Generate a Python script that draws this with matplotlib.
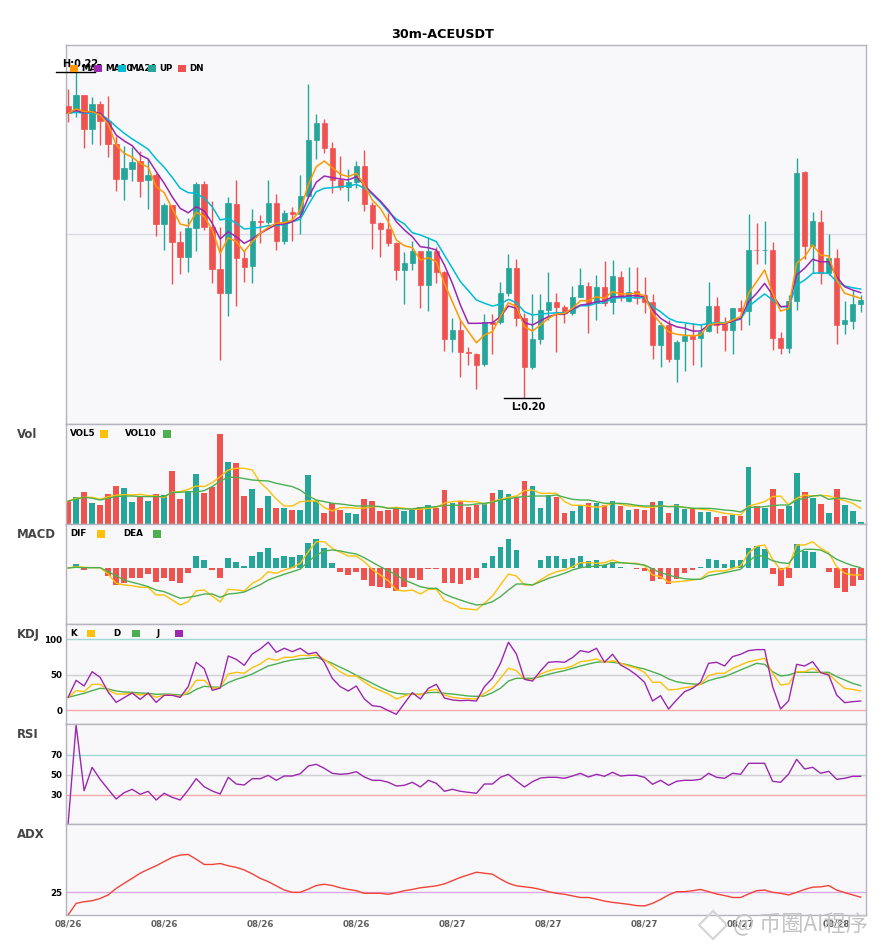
import numpy as np
import matplotlib
matplotlib.use("Agg")
import matplotlib.pyplot as plt
from matplotlib.patches import Rectangle, Polygon

# ---- data (30m candles, 100 bars) ----
open_ = [
    0.21787, 0.21762, 0.21854, 0.21646, 0.21799, 0.21695, 0.21554, 0.21342, 0.21401, 0.21450,
    0.21334, 0.21364, 0.21064, 0.21181, 0.20954, 0.20862, 0.21040, 0.21309, 0.21046, 0.20789,
    0.20642, 0.21187, 0.20856, 0.20807, 0.21083, 0.21078, 0.21193, 0.20962, 0.21138, 0.21127,
    0.21238, 0.21581, 0.21683, 0.21530, 0.21336, 0.21289, 0.21323, 0.21419, 0.21181, 0.21072,
    0.21036, 0.20950, 0.20784, 0.20827, 0.20899, 0.20693, 0.20899, 0.20772, 0.20362, 0.20415,
    0.20280, 0.20268, 0.20209, 0.20464, 0.20462, 0.20642, 0.20795, 0.20490, 0.20190, 0.20360,
    0.20538, 0.20587, 0.20556, 0.20521, 0.20619, 0.20685, 0.20579, 0.20679, 0.20588, 0.20740,
    0.20595, 0.20654, 0.20630, 0.20587, 0.20325, 0.20448, 0.20239, 0.20350, 0.20380, 0.20368,
    0.20411, 0.20562, 0.20454, 0.20417, 0.20550, 0.20533, 0.20908, 0.20902, 0.20905, 0.20368,
    0.20307, 0.20595, 0.21383, 0.20931, 0.21077, 0.20766, 0.20858, 0.20454, 0.20472, 0.20574,
]
high_ = [
    0.21889, 0.21997, 0.21856, 0.21844, 0.21819, 0.21848, 0.21605, 0.21542, 0.21534, 0.21513,
    0.21462, 0.21378, 0.21195, 0.21183, 0.21020, 0.21101, 0.21322, 0.21328, 0.21205, 0.21046,
    0.21231, 0.21334, 0.20905, 0.21156, 0.21119, 0.21334, 0.21248, 0.21150, 0.21168, 0.21364,
    0.21922, 0.21738, 0.21707, 0.21566, 0.21481, 0.21401, 0.21450, 0.21517, 0.21201, 0.21078,
    0.21134, 0.20952, 0.20893, 0.20960, 0.20901, 0.20985, 0.20923, 0.20774, 0.20489, 0.20476,
    0.20313, 0.20274, 0.20513, 0.20513, 0.20709, 0.20881, 0.20850, 0.20519, 0.20636, 0.20636,
    0.20770, 0.20642, 0.20570, 0.20686, 0.20797, 0.20711, 0.20752, 0.20838, 0.20844, 0.20776,
    0.20803, 0.20801, 0.20740, 0.20636, 0.20464, 0.20476, 0.20354, 0.20460, 0.20460, 0.20454,
    0.20709, 0.20617, 0.20495, 0.20552, 0.20599, 0.21126, 0.21070, 0.21083, 0.20954, 0.20405,
    0.20630, 0.21469, 0.21389, 0.21138, 0.21150, 0.21003, 0.20911, 0.20593, 0.20660, 0.20630,
]
low_ = [
    0.21691, 0.21718, 0.21532, 0.21554, 0.21548, 0.21476, 0.21268, 0.21211, 0.21329, 0.21231,
    0.21158, 0.20993, 0.20905, 0.20697, 0.20758, 0.20772, 0.20899, 0.21028, 0.20705, 0.20231,
    0.20501, 0.20562, 0.20709, 0.20703, 0.20948, 0.21066, 0.20907, 0.20944, 0.20962, 0.21005,
    0.21236, 0.21464, 0.21501, 0.21256, 0.21273, 0.21205, 0.21287, 0.21146, 0.20913, 0.20864,
    0.20931, 0.20723, 0.20576, 0.20784, 0.20552, 0.20533, 0.20705, 0.20288, 0.20282, 0.20129,
    0.20201, 0.20054, 0.20197, 0.20268, 0.20452, 0.20623, 0.20442, 0.19998, 0.20176, 0.20329,
    0.20478, 0.20282, 0.20460, 0.20507, 0.20617, 0.20399, 0.20478, 0.20564, 0.20511, 0.20595,
    0.20587, 0.20574, 0.20519, 0.20239, 0.20190, 0.20221, 0.20099, 0.20166, 0.20203, 0.20190,
    0.20405, 0.20399, 0.20288, 0.20270, 0.20417, 0.20448, 0.20821, 0.20821, 0.20295, 0.20270,
    0.20276, 0.20540, 0.20852, 0.20766, 0.20699, 0.20752, 0.20331, 0.20392, 0.20423, 0.20525,
]
close_ = [
    0.21742, 0.21854, 0.21646, 0.21799, 0.21695, 0.21554, 0.21342, 0.21407, 0.21444, 0.21329,
    0.21364, 0.21064, 0.21181, 0.20954, 0.20862, 0.21040, 0.21309, 0.21046, 0.20789, 0.20642,
    0.21193, 0.20856, 0.20801, 0.21083, 0.21077, 0.21193, 0.20962, 0.21132, 0.21126, 0.21236,
    0.21579, 0.21683, 0.21532, 0.21336, 0.21293, 0.21322, 0.21419, 0.21189, 0.21072, 0.21036,
    0.20950, 0.20784, 0.20825, 0.20899, 0.20693, 0.20899, 0.20772, 0.20362, 0.20415, 0.20282,
    0.20272, 0.20201, 0.20462, 0.20452, 0.20642, 0.20795, 0.20490, 0.20190, 0.20360, 0.20538,
    0.20587, 0.20558, 0.20521, 0.20617, 0.20691, 0.20576, 0.20679, 0.20579, 0.20746, 0.20619,
    0.20648, 0.20611, 0.20588, 0.20325, 0.20446, 0.20239, 0.20342, 0.20380, 0.20362, 0.20405,
    0.20562, 0.20448, 0.20417, 0.20550, 0.20533, 0.20905, 0.20902, 0.20908, 0.20368, 0.20307,
    0.20593, 0.21377, 0.20931, 0.21083, 0.20766, 0.20858, 0.20448, 0.20476, 0.20574, 0.20599,
]
ma5 = [
    0.21742, 0.21769, 0.21752, 0.21752, 0.21732, 0.21677, 0.21548, 0.21497, 0.21473, 0.21436,
    0.21412, 0.21293, 0.21256, 0.21160, 0.21064, 0.21052, 0.21136, 0.21109, 0.21028, 0.20885,
    0.20980, 0.20956, 0.20895, 0.20956, 0.21007, 0.21044, 0.21069, 0.21072, 0.21089, 0.21150,
    0.21303, 0.21415, 0.21450, 0.21409, 0.21369, 0.21354, 0.21375, 0.21303, 0.21211, 0.21160,
    0.21078, 0.20966, 0.20931, 0.20919, 0.20844, 0.20858, 0.20833, 0.20701, 0.20588, 0.20476,
    0.20405, 0.20337, 0.20385, 0.20405, 0.20497, 0.20582, 0.20558, 0.20435, 0.20409, 0.20446,
    0.20487, 0.20513, 0.20517, 0.20548, 0.20595, 0.20595, 0.20619, 0.20609, 0.20650, 0.20636,
    0.20636, 0.20640, 0.20625, 0.20517, 0.20456, 0.20405, 0.20389, 0.20383, 0.20380, 0.20385,
    0.20446, 0.20456, 0.20456, 0.20476, 0.20497, 0.20640, 0.20711, 0.20783, 0.20640, 0.20531,
    0.20548, 0.20824, 0.20864, 0.20936, 0.20874, 0.20868, 0.20721, 0.20640, 0.20625, 0.20609,
]
ma10 = [
    0.21746, 0.21758, 0.21746, 0.21752, 0.21742, 0.21691, 0.21609, 0.21573, 0.21544, 0.21487,
    0.21462, 0.21385, 0.21314, 0.21231, 0.21160, 0.21133, 0.21170, 0.21144, 0.21069, 0.20972,
    0.21017, 0.20986, 0.20946, 0.20972, 0.21007, 0.21034, 0.21062, 0.21064, 0.21078, 0.21109,
    0.21225, 0.21320, 0.21358, 0.21348, 0.21340, 0.21334, 0.21354, 0.21303, 0.21252, 0.21205,
    0.21150, 0.21078, 0.21028, 0.20986, 0.20925, 0.20919, 0.20905, 0.20813, 0.20701, 0.20568,
    0.20456, 0.20456, 0.20458, 0.20460, 0.20497, 0.20562, 0.20548, 0.20460, 0.20446, 0.20472,
    0.20497, 0.20511, 0.20511, 0.20542, 0.20568, 0.20574, 0.20588, 0.20593, 0.20619, 0.20619,
    0.20625, 0.20625, 0.20619, 0.20538, 0.20487, 0.20456, 0.20435, 0.20426, 0.20409, 0.20409,
    0.20446, 0.20450, 0.20452, 0.20470, 0.20487, 0.20588, 0.20640, 0.20701, 0.20629, 0.20558,
    0.20562, 0.20752, 0.20793, 0.20848, 0.20833, 0.20833, 0.20742, 0.20680, 0.20660, 0.20644,
]
ma20 = [
    0.21742, 0.21748, 0.21742, 0.21742, 0.21738, 0.21705, 0.21660, 0.21620, 0.21585, 0.21554,
    0.21522, 0.21462, 0.21412, 0.21350, 0.21283, 0.21256, 0.21252, 0.21222, 0.21170, 0.21089,
    0.21099, 0.21069, 0.21034, 0.21038, 0.21044, 0.21054, 0.21054, 0.21062, 0.21078, 0.21093,
    0.21181, 0.21262, 0.21283, 0.21287, 0.21293, 0.21297, 0.21307, 0.21283, 0.21246, 0.21197,
    0.21140, 0.21095, 0.21064, 0.21011, 0.20997, 0.20977, 0.20956, 0.20874, 0.20793, 0.20711,
    0.20656, 0.20599, 0.20579, 0.20562, 0.20574, 0.20603, 0.20582, 0.20527, 0.20507, 0.20513,
    0.20517, 0.20521, 0.20521, 0.20538, 0.20564, 0.20564, 0.20579, 0.20582, 0.20609, 0.20613,
    0.20613, 0.20613, 0.20613, 0.20558, 0.20527, 0.20487, 0.20466, 0.20460, 0.20452, 0.20446,
    0.20456, 0.20460, 0.20460, 0.20470, 0.20481, 0.20558, 0.20599, 0.20636, 0.20599, 0.20558,
    0.20558, 0.20691, 0.20721, 0.20762, 0.20766, 0.20762, 0.20711, 0.20685, 0.20674, 0.20666,
]
volume = [
    23.3, 27.3, 32.7, 21.3, 19.3, 30.3, 38.3, 36.3, 22.3, 27.3,
    23.3, 30.3, 29.3, 53.3, 25.3, 33.3, 50.3, 31.3, 37.3, 90.3,
    62.3, 61.3, 28.3, 35.3, 16.3, 28.3, 16.3, 16.3, 14.3, 14.3,
    49.3, 23.3, 11.3, 21.3, 14.3, 11.3, 10.3, 25.3, 23.3, 13.7,
    14.3, 16.3, 13.3, 14.3, 17.3, 19.3, 16.3, 34.3, 21.3, 23.3,
    17.3, 19.3, 20.3, 31.3, 34.3, 30.3, 27.3, 43.3, 38.3, 16.3,
    29.3, 27.3, 11.3, 13.3, 19.3, 21.3, 21.3, 19.3, 23.3, 18.3,
    14.3, 15.3, 14.3, 22.3, 23.3, 11.3, 20.3, 15.3, 16.3, 12.3,
    12.3, 7.3, 8.3, 9.3, 8.3, 57.3, 18.3, 16.3, 35.3, 15.3,
    18.3, 51.3, 32.3, 26.3, 20.3, 11.3, 35.3, 19.3, 13.3, 2.3,
]
vol5 = [
    23.3, 26, 27, 27, 25, 27.7, 29, 29.7, 29.3, 30,
    28.7, 28.3, 26.7, 32.3, 32.7, 35, 38.3, 37.7, 41.7, 47.7,
    54.3, 56, 56, 54.3, 41.7, 34.3, 25.3, 18.3, 18.3, 22.7,
    23.3, 23.3, 16.7, 13.3, 16.7, 16.7, 16, 16.3, 17.7, 17.7,
    16, 17, 16, 15, 15, 16, 17, 21.3, 22.7, 23.3,
    22.7, 22.7, 20.3, 22.7, 25, 27, 28.3, 33.7, 34.3, 31,
    31, 31, 22.7, 19, 19, 18.3, 17, 18.3, 21, 20.3,
    18.3, 18.3, 17, 17, 18.3, 17.7, 18.3, 16.7, 16, 15,
    14.3, 12.7, 11, 10, 9.3, 18.3, 20.3, 22.7, 27.7, 28.3,
    19.3, 26, 29.3, 28.3, 29, 28.3, 26, 23.7, 21, 16,
]
vol10 = [
    23.3, 25, 27, 26, 24.3, 26, 27.7, 28.3, 28.3, 27.7,
    27.7, 27.7, 27.7, 32, 32, 32.7, 32.3, 33.7, 37.7, 43.3,
    47, 47, 45.7, 44.3, 43.7, 43.3, 41, 39.3, 37.7, 34.3,
    28.3, 24.3, 22.7, 21, 20.3, 19.3, 18.3, 18.3, 18.3, 17.7,
    16, 16, 15.3, 15.3, 16.7, 17, 17.7, 18.8, 19, 19.3,
    19.3, 20.3, 21, 22, 24.3, 25.3, 27, 27.7, 28.3, 28.3,
    28.3, 29.3, 27, 25, 24.3, 24.3, 22.7, 21, 21, 21,
    20.3, 19, 18.3, 18.3, 18.3, 17.7, 17.7, 17, 16, 16,
    16, 15.3, 14.3, 13.7, 12.3, 17, 17, 17.7, 18.7, 19.3,
    19.3, 24.3, 26, 28.3, 29, 25, 26, 26, 24.3, 23.3,
]
macd_hist = [
    0, 4, -1.7, 0.3, -0.3, -7.7, -16.7, -14.7, -9.7, -9.7,
    -5.7, -13.7, -9.7, -12.7, -14.7, -4.7, 12, 8, -1.7, -9.7,
    10, 6, 2, 12, 16, 20, 10, 12, 11, 13,
    25, 29, 20, 5, -3.7, -6.7, -3.7, -11.7, -17.7, -18.7,
    -19.7, -22.7, -18.7, -9.7, -11.7, -1, -0.7, -14.7, -14.7, -15.7,
    -11.7, -9.7, 5, 12, 21, 29, 18, 0.3, 0.3, 8,
    12, 12, 9, 10, 12, 7, 8, 3, 6, 1,
    0.3, -0.7, -2.7, -12.7, -10.7, -15.7, -10.7, -4.7, -1.7, 1,
    9, 8, 4, 8, 8, 20, 22, 19, -5.7, -17.7,
    -9.7, 24, 17, 16, 0.3, -3.7, -19.7, -23.7, -17.7, -11.7,
]
dif = [
    0, 1.3, 0.7, 0.3, 0.3, -6, -15.3, -17, -17.7, -19.3,
    -19.3, -27, -27, -32, -37, -33.7, -22.7, -22, -28, -34,
    -21.3, -22, -23, -15.3, -11.3, -3.7, -5.3, -2, 0.3, 4.7,
    16.3, 26.3, 26.3, 19.7, 15.7, 12, 12, 6.3, -1.3, -7,
    -12.7, -22, -23, -22, -26, -21.3, -21.3, -32.5, -35.3, -40.3,
    -41, -42, -35.3, -28, -17, -6, -8, -17, -17, -12,
    -7, -3.7, -2, 1.3, 5.3, 5.3, 4.7, 5.3, 8, 5.3,
    4.7, 4.7, 2.3, -7, -8.7, -14.3, -13.7, -13, -12, -11,
    -4.3, -3, -3, -0.3, 2, 15, 21.7, 23, 8.7, -2,
    1.3, 23, 23, 26.3, 19.7, 15.3, 1.3, -5.3, -7, -7,
]
dea = [
    0, 0.7, 0.3, 0.3, 0.3, -3.7, -7.7, -12, -14.3, -16.3,
    -18.7, -22, -23.7, -27, -30.3, -29.3, -28, -26, -26, -29.3,
    -26, -25.3, -24, -20.3, -16.7, -12, -9, -6.3, -3.7, -1,
    6.3, 13, 17, 18, 17, 15.3, 14, 10.3, 5.7, 1.3,
    -2.7, -7, -12, -15.3, -18.7, -20.3, -20.3, -26, -29.3, -32,
    -34.7, -37, -36.3, -33.7, -28.7, -22, -16, -16, -17, -13.7,
    -10.3, -8, -5.3, -2, 0.3, 1.3, 2, 3, 5.3, 5.3,
    4.7, 4, 3, -1, -4.7, -7, -9.3, -10.7, -11.3, -11.3,
    -7.7, -6.3, -4.7, -3, -1.3, 6.3, 13, 11.3, 7.3, 5.3,
    4.5, 14.7, 18.7, 18.7, 18, 14, 8.7, 5.3, 2.3, 0.3,
]
kdj_k = [
    17.9, 27.4, 25.9, 36.3, 36.3, 28.3, 22.6, 22.6, 23.6, 21.2,
    22.6, 17.9, 21.2, 21.2, 18.9, 25.9, 42, 42, 30.7, 31.6,
    50.9, 53.3, 51.9, 59.9, 65.1, 73.1, 70.3, 74.5, 74.5, 77.4,
    76.9, 77.8, 71.7, 62.7, 54.2, 48.1, 48.1, 39.6, 32.1, 27.4,
    22.6, 15.6, 19.8, 23.6, 21.2, 27.4, 29.2, 21.2, 17.9, 16.5,
    16, 15.6, 23.6, 30.7, 44.8, 59, 55.7, 43.4, 42.5, 50.9,
    55.2, 58, 59, 62.3, 68.4, 69.8, 72.2, 67.5, 69.8, 66,
    62.3, 59, 53.3, 39.2, 39.2, 28.3, 29.2, 31.6, 33, 36.3,
    48.6, 51.9, 51.9, 59, 63.7, 68.4, 70.8, 73.1, 51.9, 35.4,
    36.8, 54.2, 54.2, 59, 52.8, 50.9, 40.1, 30.7, 29.2, 26.9,
]
kdj_d = [
    17.9, 20.8, 23.6, 27.4, 30.7, 29.7, 26.9, 25.5, 25, 24.1,
    23.6, 22.2, 22.6, 22.2, 21.2, 22.6, 29.2, 33.5, 32.5, 32.1,
    38.7, 43.4, 46.7, 50.9, 56.6, 62.3, 65.1, 68.4, 70.8, 72.2,
    73.1, 74.5, 70.8, 66, 60.4, 55.2, 49.1, 43.4, 37.7, 32.1,
    26.9, 23.6, 22.6, 22.6, 22.2, 24.5, 25, 23.6, 22.6, 21.2,
    19.8, 19.3, 19.8, 24.5, 30.7, 41, 44.8, 44.8, 44.8, 47.2,
    50.5, 53.3, 55.7, 59, 62.3, 65.1, 67.5, 68.4, 67.5, 66,
    63.7, 60.4, 58, 54, 50, 44, 40, 38, 36.8, 36.3,
    41.5, 44.8, 47.2, 51.9, 56.6, 61.3, 66, 64.6, 54.2, 48.1,
    49.5, 53.3, 53.3, 53.3, 53.3, 53.3, 47.2, 42.5, 37.7, 34.4,
]
kdj_j = [
    17.9, 42, 34, 54.2, 46.2, 25.5, 10.8, 17.5, 24.1, 15.1,
    24.1, 10.8, 20.8, 20.8, 17.9, 33, 67.5, 58.5, 27.8, 31.1,
    76.4, 71.7, 63.2, 79.2, 86.3, 95.8, 81.6, 87.3, 82.5, 87.3,
    79.2, 81.6, 67.5, 44.8, 33, 26.9, 34, 15.6, 6.1, 4.7,
    -0.9, -6.1, 9.4, 24.5, 15.6, 30.7, 36.3, 17, 14.2, 13.2,
    13.7, 12.7, 33, 44.8, 66, 95.8, 79.2, 43.4, 41, 55.2,
    67.5, 68.4, 67.5, 74.1, 84, 81.6, 87.3, 67.5, 78.8, 63.7,
    57.5, 49.5, 39.2, 12.7, 20.3, 1.4, 14.2, 25.9, 30.7, 39.2,
    66, 67.5, 62.3, 75.5, 78.8, 84, 85.4, 85.4, 33, 1.4,
    13.2, 64.6, 62.3, 68.4, 52.8, 49.5, 21.2, 10.4, 11.8, 12.7,
]
rsi = [
    1, 100, 34.3, 57.7, 45.7, 35.7, 26, 32.3, 35.7, 30.7,
    33.7, 25, 31.7, 27.7, 25, 35, 46.3, 38.3, 34, 31,
    47.7, 41, 40, 46.3, 46.3, 49.7, 44.7, 49, 49, 51.3,
    59, 60.7, 56.7, 51.7, 50.7, 51.3, 53.3, 48, 44.7, 44.7,
    42.7, 39, 39.7, 42.7, 38, 44.7, 41.7, 33.7, 35.7, 33.7,
    32.7, 31.7, 41, 41, 47.7, 50.7, 44, 38, 43.3, 47,
    47.7, 47.7, 46.7, 49, 51.7, 48, 50.7, 48.7, 52.7, 49,
    49.7, 49.7, 47.7, 40.7, 44.7, 39.7, 43.7, 44.7, 44.7, 45.7,
    51.7, 47.7, 46.7, 51.7, 50.7, 61.7, 61.7, 61.7, 43.7, 42.7,
    51, 65.7, 56, 57.7, 51.7, 53.7, 45.7, 46.7, 48.7, 48.7,
]
adx = [
    18, 21.6, 22.1, 22.4, 23.1, 24.2, 26.2, 27.8, 29.3, 30.9,
    32.1, 33.2, 34.5, 35.8, 36.5, 36.7, 35.2, 33.6, 33.6, 33.9,
    33.2, 32.7, 31.9, 30.7, 29.3, 28.3, 27, 25.7, 25, 25,
    26, 27.1, 27.5, 27.1, 26.4, 25.9, 25.5, 24.7, 24.7, 24.7,
    24.4, 24.9, 25.5, 25.9, 26.4, 26.7, 27, 27.6, 28.6, 29.6,
    30.4, 31.2, 30.9, 30.6, 29.1, 27.8, 27, 26.7, 26.4, 25.9,
    25.2, 24.7, 24.4, 23.9, 23.4, 23.4, 22.9, 22.3, 21.9, 21.6,
    21.3, 20.9, 20.8, 21.6, 22.8, 24.2, 25.2, 25.2, 25.5, 25.9,
    25.2, 24.5, 24, 23.4, 23.4, 24.5, 25.5, 25.7, 25, 24.7,
    24.2, 25, 25.9, 26.6, 26.7, 27.1, 25.7, 24.9, 24.2, 23.5,
]
tick_pos = [0, 12, 24, 36, 48, 60, 72, 84, 96]
tick_labels = ["08/26", "08/26", "08/26", "08/26", "08/27", "08/27", "08/27", "08/27", "08/28"]

# ---- styles ----
W, H = 885, 950
UP, DN = "#26a69a", "#ef5350"
BG = "#f8f8fb"
SPINE = "#b4b4bc"
C_MA5, C_MA10, C_MA20 = "#ff9800", "#9c27b0", "#00bcd4"
C_YEL, C_GRN, C_PUR = "#ffc107", "#4caf50", "#9c27b0"


def fx(x):
    return x / W


def fy(y):
    return 1 - y / H


o, h, l, c = (np.array(a) for a in (open_, high_, low_, close_))
idx = np.arange(len(c))
up = c >= o
cols = np.where(up, UP, DN)

fig = plt.figure(figsize=(W / 100, H / 100), dpi=100)
fig.patch.set_facecolor("white")

panels = [(45, 424.3), (424.3, 524.3), (524.3, 624.3), (624.3, 724.3), (724.3, 824.3), (824.3, 915)]
axes = []
for top, bot in panels:
    ax = fig.add_axes([fx(65.7), fy(bot), 799.8 / W, (bot - top) / H],
                      sharex=axes[0] if axes else None)
    ax.set_facecolor(BG)
    for s in ax.spines.values():
        s.set_color(SPINE)
        s.set_linewidth(1.0)
    ax.tick_params(length=0, labelbottom=False, labelleft=False)
    axes.append(ax)
ax_p, ax_v, ax_m, ax_k, ax_r, ax_a = axes

# price panel
ax_p.axhline(0.21, color="#dcdce6", lw=1, zorder=1)
ax_p.vlines(idx, l, h, colors=cols, lw=1.0, zorder=2)
body_h = np.maximum(np.abs(c - o), 0.00002)
ax_p.bar(idx, body_h, bottom=np.minimum(o, c), width=0.68, color=cols,
         edgecolor=cols, linewidth=0.5, zorder=3)
ax_p.plot(idx, ma20, color=C_MA20, lw=1.1, zorder=4)
ax_p.plot(idx, ma10, color=C_MA10, lw=1.1, zorder=4)
ax_p.plot(idx, ma5, color=C_MA5, lw=1.1, zorder=4)
ax_p.set_ylim(0.19838, 0.22160)
ax_p.set_yticks([])
ax_p.set_xlim(-0.3, 99.6)

# high / low markers
hi = int(np.argmax(h))
lo = int(np.argmin(l))
ax_p.plot([hi - 2.5, hi + 2.4], [h[hi], h[hi]], color="black", lw=1, clip_on=False, zorder=6)
ax_p.annotate(f"H:{h[hi]:.2f}", (hi + 0.5, h[hi]), textcoords="offset points", xytext=(0, 1.8),
              ha="center", va="bottom", fontsize=7, fontweight="bold", annotation_clip=False, zorder=6)
ax_p.plot([lo - 2.5, lo + 2.0], [l[lo], l[lo]], color="black", lw=1, clip_on=False, zorder=6)
ax_p.annotate(f"L:{l[lo]:.2f}", (lo + 0.5, l[lo]), textcoords="offset points", xytext=(0, -3),
              ha="center", va="top", fontsize=7, fontweight="bold", annotation_clip=False, zorder=6)

# volume
ax_v.bar(idx, volume, width=0.72, color=cols, linewidth=0)
ax_v.plot(idx, vol5, color=C_YEL, lw=1.0)
ax_v.plot(idx, vol10, color=C_GRN, lw=1.0)
ax_v.set_ylim(0, 100)
ax_v.set_yticks([])

# macd
mh = np.array(macd_hist)
ax_m.bar(idx, mh, width=0.72, color=np.where(mh >= 0, UP, DN), linewidth=0)
ax_m.plot(idx, dif, color=C_YEL, lw=1.0)
ax_m.plot(idx, dea, color=C_GRN, lw=1.0)
ax_m.set_ylim(-56.3, 43.7)
ax_m.set_yticks([])

# kdj
for lev, col in [(100, "#9fd8d3"), (50, "#cfcfd4"), (0, "#f5a9a9")]:
    ax_k.axhline(lev, color=col, lw=1, zorder=1)
ax_k.plot(idx, kdj_d, color=C_GRN, lw=1.0)
ax_k.plot(idx, kdj_k, color=C_YEL, lw=1.0)
ax_k.plot(idx, kdj_j, color=C_PUR, lw=1.0)
ax_k.set_ylim(-20.2, 121.2)

# rsi
for lev, col in [(70, "#9fd8d3"), (50, "#cfcfd4"), (30, "#f5a9a9")]:
    ax_r.axhline(lev, color=col, lw=1, zorder=1)
ax_r.plot(idx, rsi, color=C_PUR, lw=1.0)
ax_r.set_ylim(0.7, 100.7)

# adx
ax_a.axhline(25, color="#dba8e6", lw=1, zorder=1)
ax_a.plot(idx, adx, color="#f44336", lw=1.0)
ax_a.set_ylim(18, 46)

for ax, ticks in [(ax_k, [0, 50, 100]), (ax_r, [30, 50, 70]), (ax_a, [25])]:
    ax.set_yticks(ticks)
    ax.set_yticklabels([str(t) for t in ticks], fontsize=6.3, fontweight="bold")
    ax.tick_params(axis="y", labelleft=True, pad=2.5)

ax_a.set_xticks(tick_pos)
ax_a.set_xticklabels(tick_labels, fontsize=6.3, fontweight="bold", color="#5f5f5f")
ax_a.tick_params(axis="x", labelbottom=True, pad=3)

# title and panel names
fig.text(fx(442.5), fy(34.7), "30m-ACEUSDT", ha="center", va="center", fontsize=9.2, fontweight="bold")
for name, y in [("Vol", 434.5), ("MACD", 534.5), ("KDJ", 634.5), ("RSI", 734.5), ("ADX", 834.5)]:
    fig.text(fx(17), fy(y), name, ha="left", va="center", fontsize=8.4, fontweight="bold", color="#444444")


def legend_square(x, y, color, z):
    fig.patches.append(Rectangle((fx(x), fy(y + 3.8)), 7.6 / W, 7.6 / H, transform=fig.transFigure,
                                 facecolor=color, edgecolor="none", zorder=z))


def legend_text(x, y, s, z):
    fig.text(fx(x), fy(y), s, ha="left", va="center", fontsize=6.3, fontweight="bold", zorder=z)


# main legend: square then label (next square overlaps previous label)
main_items = [("MA5", C_MA5, 70), ("MA10", C_MA10, 94), ("MA20", C_MA20, 118), ("UP", UP, 148), ("DN", DN, 178)]
for k, (lab, col, x) in enumerate(main_items):
    legend_square(x, 68.5, col, 10 + 2 * k)
    legend_text(x + 11.5, 68.5, lab, 11 + 2 * k)

# sub-panel legends: label then square
sub_items = [
    (433.7, [("VOL5", C_YEL, 70, 100), ("VOL10", C_GRN, 125, 163)]),
    (533.7, [("DIF", C_YEL, 70, 97), ("DEA", C_GRN, 123, 153)]),
    (633.5, [("K", C_YEL, 70.5, 87), ("D", C_GRN, 113, 132), ("J", C_PUR, 157, 175)]),
]
for y, items in sub_items:
    for lab, col, xt, xs in items:
        legend_text(xt, y, lab, 20)
        legend_square(xs, y, col, 20)

# watermark
fig.patches.append(Polygon([(fx(713), fy(911)), (fx(727), fy(925)), (fx(713), fy(939)), (fx(699), fy(925))],
                           closed=True, fill=False, edgecolor="#d4d4d4", lw=1.5,
                           transform=fig.transFigure, zorder=30))
fig.text(fx(733), fy(925), "@ 币圈AI程序", ha="left", va="center", fontsize=16, color="#c4c4c4",
         family=["Noto Sans CJK SC", "DejaVu Sans"], zorder=30)

fig.savefig("out.png", dpi=100)
